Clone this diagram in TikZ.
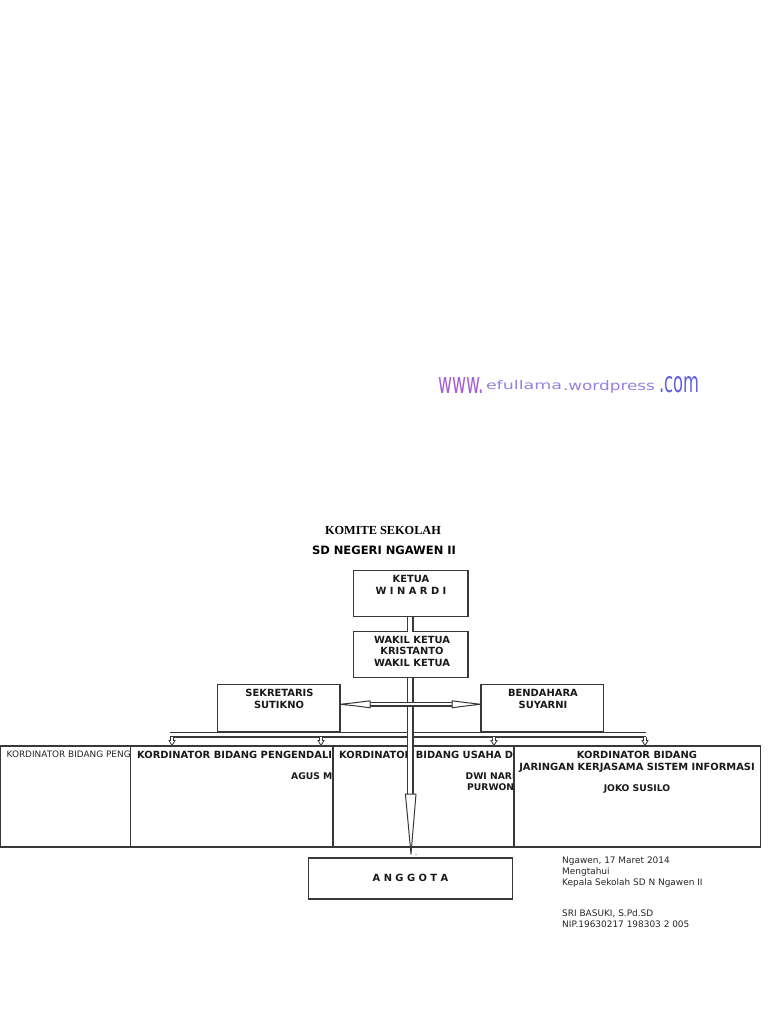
\documentclass[tikz,border=0pt]{standalone}
\usepackage{graphicx}
\usepackage{fontspec}
\setmainfont{DejaVu Sans}
\newfontfamily\titlefont{Liberation Serif}
\usetikzlibrary{calc}
\definecolor{ln}{gray}{0.22}
\definecolor{wmA}{RGB}{165,95,215}
\definecolor{wmB}{RGB}{150,130,220}
\definecolor{wmC}{RGB}{95,95,225}
\tikzset{
  box/.style={draw=ln,fill=white,line width=1.2pt,anchor=north west,inner sep=0pt,outer sep=0pt},
  bold/.style={inner sep=0pt,font=\fontsize{9.9}{11}\selectfont\bfseries,text=black!90},
  names/.style={inner sep=0pt,font=\fontsize{9.2}{10}\selectfont\bfseries,text=black!90},
  plain/.style={inner sep=0pt,font=\fontsize{8.95}{10}\selectfont,text=black!85,anchor=base west},
  rail/.style={draw=ln,line width=1.3pt},
  head/.style={draw=ln,fill=white,line width=1pt,line join=round},
  tiny/.style={draw=ln,fill=white,line width=0.8pt},
}
\newcommand{\sizedbox}[5]{\node[box,minimum width=#3pt,minimum height=#4pt] (#5) at (#1,#2) {};}
\newcommand{\downarrowat}[2]{%
  \coordinate (#2t) at (#1,737);\coordinate (#2b) at (#1,745.5);
  \draw[tiny] ($(#2t)+(-1.5,0)$) -- ($(#2t)+(-1.5,3.5)$) -- ($(#2t)+(-3,3.5)$) -- (#2b) -- ($(#2t)+(3,3.5)$) -- ($(#2t)+(1.5,3.5)$) -- ($(#2t)+(1.5,0)$);}
\newcommand{\vrail}[2]{%
  \draw[white,line width=4.6pt] (#1) -- (#2);
  \draw[rail] ($(#1)+(-2.7,0)$) -- ($(#2)+(-2.7,0)$);
  \draw[rail] ($(#1)+(2.7,0)$) -- ($(#2)+(2.7,0)$);}
\newcommand{\hrail}[3]{%
  \draw[white,line width=#3pt] (#1) -- (#2);
  \draw[rail] ($(#1)+(0,-#3/2-0.6)$) -- ($(#2)+(0,-#3/2-0.6)$);
  \draw[rail] ($(#1)+(0,#3/2+0.6)$) -- ($(#2)+(0,#3/2+0.6)$);}
\begin{document}
\begin{tikzpicture}[x=1pt,y=-1pt]
\useasboundingbox (0,0) rectangle (768,1024);
\fill[white] (0,0) rectangle (768,1024);
% watermark
\node[inner sep=0pt,text=wmA] (w1) at (461,385) {\resizebox{46pt}{16pt}{\fontsize{12}{12}\selectfont www.}};
\node[inner sep=0pt,text=wmB] (w2) at (524,385) {\resizebox{76pt}{9pt}{\fontsize{12}{12}\selectfont efullama}};
\node[inner sep=0pt,text=wmB] (w3) at (609,386.5) {\resizebox{92pt}{10pt}{\fontsize{12}{12}\selectfont .wordpress}};
\node[inner sep=0pt,text=wmC] (w4) at (679,385) {\resizebox{40pt}{16pt}{\fontsize{12}{12}\selectfont .com}};
% titles
\node[inner sep=0pt,anchor=base,font=\titlefont\fontsize{12.3}{13}\selectfont\bfseries] (t1) at (383,534) {KOMITE SEKOLAH};
\node[inner sep=0pt,anchor=base,font=\fontsize{11.5}{12}\selectfont\bfseries] (t2) at (384,554) {SD NEGERI NGAWEN II};
% upper boxes
\sizedbox{353.5}{570.5}{114.5}{46}{ketua}
\sizedbox{353.5}{631.5}{114.5}{46}{wakil}
\sizedbox{217.5}{684.5}{122.5}{47}{sekre}
\sizedbox{481}{684.5}{122.5}{47}{benda}
\node[bold,anchor=base] (k1) at (411,582.5) {KETUA};
\node[bold,anchor=base] (k2) at (411,594) {W I N A R D I};
\node[bold,anchor=base] (w1t) at (412,643) {WAKIL KETUA};
\node[bold,anchor=base] (w2t) at (412,654.5) {KRISTANTO};
\node[bold,anchor=base] (w3t) at (412,666) {WAKIL KETUA};
\node[bold,anchor=base] (s1) at (279.5,696) {SEKRETARIS};
\node[bold,anchor=base] (s2) at (279,708.5) {SUTIKNO};
\node[bold,anchor=base] (b1) at (543,696) {BENDAHARA};
\node[bold,anchor=base] (b2) at (543,708.5) {SUYARNI};
% coordinator row
\sizedbox{0.5}{746}{130}{101}{r1}
\node[plain,anchor=base west,font=\fontsize{8.9}{10}\selectfont] (r1a) at (6.5,757) {KORDINATOR BIDANG PENG};
\sizedbox{130.5}{746}{202.5}{101}{r2}
\node[bold,anchor=base west] (r2a) at (137,758) {KORDINATOR BIDANG PENGENDALI};
\node[names,anchor=base west] (r2b) at (291,779) {AGUS MI};
\sizedbox{333}{746}{181}{101}{r3}
\node[bold,anchor=base west] (r3a) at (339,758) {KORDINATOR BIDANG USAHA DA};
\node[names,anchor=base west] (r3b) at (465.5,779) {DWI NARI};
\node[names,anchor=base west] (r3c) at (467,790) {PURWON};
\sizedbox{514}{746}{246.5}{101}{r4}
\node[bold,anchor=base] (r4a) at (637,758) {KORDINATOR BIDANG};
\node[bold,anchor=base] (r4b) at (637,770) {JARINGAN KERJASAMA SISTEM INFORMASI};
\node[names,anchor=base] (r4c) at (637,791) {JOKO SUSILO};
% anggota
\sizedbox{308.5}{858}{204}{41}{angg}
\node[bold,anchor=base] (a1) at (410.5,881) {A N G G O T A};
% signature
\node[plain] (g1) at (562,863) {Ngawen, 17 Maret 2014};
\node[plain] (g2) at (562,874) {Mengtahui};
\node[plain] (g3) at (562,885) {Kepala Sekolah SD N Ngawen II};
\node[plain] (g4) at (562,916) {SRI BASUKI, S.Pd.SD};
\node[plain] (g5) at (562,927) {NIP.19630217 198303 2 005};
% horizontal bus
\coordinate (busL) at (170,734.8);
\coordinate (busR) at (646,734.8);
\hrail{busL}{busR}{3}
\downarrowat{172}{p1}
\downarrowat{321}{p2}
\downarrowat{494}{p3}
\downarrowat{645}{p4}
% central connectors
\coordinate (neck) at (410.4,795);
\vrail{ketua.south -| neck}{wakil.north -| neck}
\vrail{wakil.south -| neck}{neck}
\coordinate (tip) at (411,854);
\draw[head] (405.4,794) -- (416,794) -- (tip) -- cycle;
\fill[ln] (416,854.5) circle (0.5);
% sekretaris - bendahara
\coordinate (hy) at (410,704.3);
\coordinate (hl) at (370,704.3);
\coordinate (hr) at (452,704.3);
\hrail{hl}{hr}{2.2}
\draw[head] (sekre.east |- hy) -- (355,702.7) -- (370,700.8) -- (370,707.8) -- (355,705.8) -- cycle;
\draw[head] (benda.west |- hy) -- (467,702.7) -- (452,700.8) -- (452,707.8) -- (467,705.8) -- cycle;
\end{tikzpicture}
\end{document}
